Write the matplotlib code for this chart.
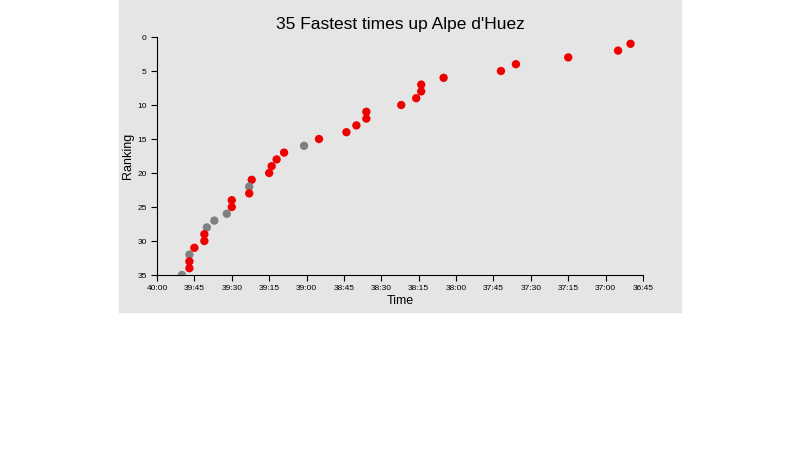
import matplotlib
matplotlib.use("Agg")
import matplotlib.pyplot as plt
from matplotlib.patches import Rectangle

plt.rcParams['font.family'] = ['Liberation Sans', 'DejaVu Sans']

places = list(range(1, 36))
seconds = [2210, 2215, 2235, 2256, 2262, 2285, 2294, 2294, 2296, 2302,
           2316, 2316, 2320, 2324, 2335, 2341, 2349, 2352, 2354, 2355,
           2362, 2363, 2363, 2370, 2370, 2372, 2377, 2380, 2381, 2381,
           2385, 2387, 2387, 2387, 2390]
doping = [1, 1, 1, 1, 1, 1, 1, 1, 1, 1, 1, 1, 1, 1, 1, 0, 1, 1, 1, 1,
          1, 0, 1, 1, 1, 0, 0, 0, 1, 1, 1, 0, 1, 1, 0]
xticks = list(range(2400, 2204, -15))
xlabels = [f"{s // 60}:{s % 60:02d}" for s in xticks]

W, H = 800, 450
fig = plt.figure(figsize=(8, 4.5), dpi=100)
fig.patches.append(Rectangle((119 / W, 1 - 312 / H), 562 / W, 312 / H,
                             transform=fig.transFigure, color="#e5e5e5", zorder=-10))
ax = fig.add_axes([157 / W, 1 - 275 / H, 486 / W, 238 / H])
ax.set_facecolor("none")
colors = ["#ee0000" if d else "#808080" for d in doping]
ax.scatter(seconds, places, c=colors, s=36, zorder=3, linewidths=0)
ax.set_xlim(2400, 2205)
ax.set_ylim(35, 0)
ax.set_xticks(xticks)
ax.set_xticklabels(xlabels)
ax.set_yticks(range(0, 36, 5))
ax.tick_params(labelsize=6, length=4, width=0.8)
for s in ["top", "right"]:
    ax.spines[s].set_visible(False)
ax.set_xlabel("Time", fontsize=9, labelpad=2)
ax.set_ylabel("Ranking", fontsize=9, labelpad=2)
fig.text(400 / W, 1 - 25 / H, "35 Fastest times up Alpe d'Huez", ha="center", va="center", fontsize=12.5)
fig.savefig("out.png", dpi=100)
